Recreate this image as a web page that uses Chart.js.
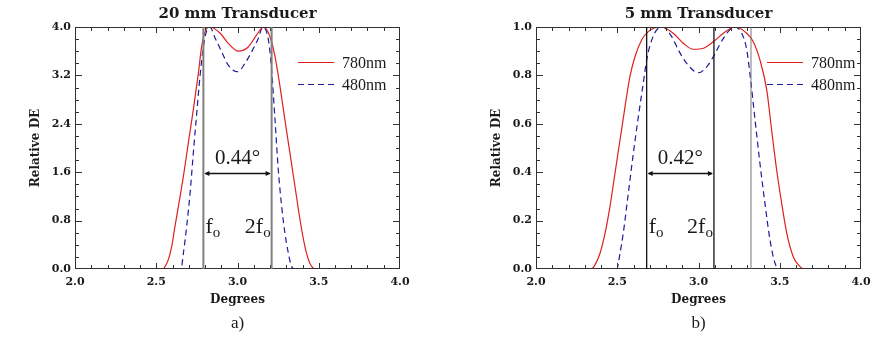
<!DOCTYPE html>
<html lang="en">
<head>
<meta charset="UTF-8" />
<title>Relative DE vs Degrees</title>
<script src="https://cdn.jsdelivr.net/npm/chart.js"></script>
<style>
  html, body { margin: 0; padding: 0; background: #fff; }
  body { width: 885px; height: 338px; overflow: hidden; display: flex; }
  canvas { display: block; }
</style>
</head>
<body>
<canvas id="chartA" width="442" height="338"></canvas>
<canvas id="chartB" width="443" height="338"></canvas>

<script>
// axis ticks
const xTicks = [2.0, 2.5, 3.0, 3.5, 4.0];
const yTicksA = [0.0, 0.8, 1.6, 2.4, 3.2, 4.0];
const yTicksB = [0.0, 0.2, 0.4, 0.6, 0.8, 1.0];
const seriesNames = ["780nm", "480nm"];

// a) 20 mm transducer
const degA780 = [2.0, 2.54, 2.554, 2.574, 2.595, 2.615, 2.636, 2.667, 2.697, 2.728, 2.759, 2.779, 2.80, 2.831, 2.892, 2.943, 3.005, 3.066, 3.118, 3.16, 3.20, 3.231, 3.262, 3.292, 3.323, 3.354, 3.385, 3.415, 3.446, 3.48, 4.0];
const valA780 = [0, 0, 0.04, 0.15, 0.37, 0.70, 1.03, 1.53, 2.08, 2.63, 3.23, 3.67, 3.92, 4.0, 3.90, 3.73, 3.60, 3.67, 3.87, 4.0, 3.84, 3.51, 3.01, 2.46, 1.91, 1.36, 0.81, 0.37, 0.09, 0, 0];
const degA480 = [2.0, 2.652, 2.667, 2.687, 2.708, 2.728, 2.749, 2.769, 2.79, 2.806, 2.83, 2.862, 2.903, 2.943, 3.0, 3.046, 3.087, 3.128, 3.155, 3.19, 3.21, 3.231, 3.251, 3.272, 3.292, 3.313, 3.333, 3.352, 4.0];
const valA480 = [0, 0, 0.26, 0.70, 1.25, 1.91, 2.57, 3.18, 3.67, 3.90, 4.0, 3.82, 3.59, 3.37, 3.26, 3.40, 3.59, 3.81, 4.0, 3.79, 3.29, 2.46, 1.64, 1.03, 0.59, 0.26, 0.04, 0, 0];
const markersA = [2.79, 3.21];
const greyMarkersA = [];
const arrowA = 1.58;

// b) 5 mm transducer
const degB780 = [2.0, 2.34, 2.363, 2.394, 2.425, 2.455, 2.486, 2.517, 2.548, 2.578, 2.609, 2.65, 2.691, 2.77, 2.845, 2.906, 2.968, 3.03, 3.091, 3.153, 3.225, 3.297, 3.337, 3.378, 3.42, 3.45, 3.481, 3.512, 3.543, 3.583, 3.625, 3.65, 4.0];
const valB780 = [0, 0, 0.017, 0.065, 0.148, 0.257, 0.395, 0.533, 0.671, 0.795, 0.877, 0.946, 0.981, 1.0, 0.974, 0.933, 0.908, 0.912, 0.939, 0.974, 1.0, 0.974, 0.939, 0.864, 0.74, 0.574, 0.409, 0.271, 0.148, 0.051, 0.01, 0, 0];
const degB480 = [2.0, 2.497, 2.517, 2.537, 2.568, 2.599, 2.63, 2.66, 2.681, 2.712, 2.743, 2.78, 2.835, 2.876, 2.927, 2.999, 3.06, 3.102, 3.153, 3.22, 3.266, 3.297, 3.321, 3.348, 3.378, 3.409, 3.44, 3.471, 3.5, 4.0];
const valB480 = [0, 0, 0.065, 0.148, 0.313, 0.478, 0.63, 0.767, 0.864, 0.946, 0.988, 1.0, 0.96, 0.905, 0.85, 0.811, 0.843, 0.891, 0.953, 1.0, 0.974, 0.905, 0.781, 0.616, 0.437, 0.271, 0.12, 0.024, 0, 0];
const markersB = [2.681, 3.095];
const greyMarkersB = [3.323];
const arrowB = 0.395;

const TXT = "#1a1a1a";
const tickFont = { family: "DejaVu Serif", size: 11, weight: "bold" };
const labelFont = { family: "DejaVu Serif", size: 12, weight: "bold" };

function pts(xs, ys) {
  return xs.map((x, i) => ({ x: x, y: ys[i] }));
}

// IDL-style box with inward ticks on all four sides
const idlBox = {
  id: "idlBox",
  afterDatasetsDraw(chart, args, o) {
    const { ctx, chartArea: a, scales: { x, y } } = chart;
    ctx.save();
    ctx.strokeStyle = "#333";
    ctx.lineWidth = 1;
    ctx.strokeRect(a.left + 0.5, a.top + 0.5, a.right - a.left - 1, a.bottom - a.top - 1);
    ctx.beginPath();
    const nx = Math.round((x.max - x.min) / o.xMinor);
    for (let i = 1; i < nx; i++) {
      const v = x.min + i * o.xMinor;
      const len = Math.abs(v / o.xMajor - Math.round(v / o.xMajor)) < 1e-6 ? 6 : 4;
      const px = Math.round(x.getPixelForValue(v)) + 0.5;
      ctx.moveTo(px, a.bottom); ctx.lineTo(px, a.bottom - len);
      ctx.moveTo(px, a.top); ctx.lineTo(px, a.top + len);
    }
    const ny = Math.round((y.max - y.min) / o.yMinor);
    for (let i = 1; i < ny; i++) {
      const v = y.min + i * o.yMinor;
      const len = Math.abs(v / o.yMajor - Math.round(v / o.yMajor)) < 1e-6 ? 7 : 4;
      const py = Math.round(y.getPixelForValue(v)) + 0.5;
      ctx.moveTo(a.left, py); ctx.lineTo(a.left + len, py);
      ctx.moveTo(a.right, py); ctx.lineTo(a.right - len, py);
    }
    ctx.stroke();

    // frequency markers
    const top = y.getPixelForValue(y.max), bot = y.getPixelForValue(y.min);
    ctx.strokeStyle = o.markerColor;
    ctx.lineWidth = o.markerWidth;
    o.markers.forEach(m => {
      const px = x.getPixelForValue(m);
      ctx.beginPath(); ctx.moveTo(px, top); ctx.lineTo(px, bot); ctx.stroke();
    });
    ctx.strokeStyle = "#777";
    ctx.lineWidth = 1;
    o.greyMarkers.forEach(m => {
      const px = x.getPixelForValue(m);
      ctx.beginPath(); ctx.moveTo(px, top); ctx.lineTo(px, bot); ctx.stroke();
    });

    // double arrow
    const x1 = x.getPixelForValue(o.markers[0]), x2 = x.getPixelForValue(o.markers[1]);
    const ay = Math.round(y.getPixelForValue(o.arrowAt)) + 0.5;
    ctx.strokeStyle = "#111"; ctx.fillStyle = "#111"; ctx.lineWidth = 1.5;
    ctx.beginPath(); ctx.moveTo(x1 + 2, ay); ctx.lineTo(x2 - 2, ay); ctx.stroke();
    ctx.beginPath();
    ctx.moveTo(x1 + 1, ay); ctx.lineTo(x1 + 6, ay - 2.5); ctx.lineTo(x1 + 6, ay + 2.5); ctx.closePath();
    ctx.moveTo(x2 - 1, ay); ctx.lineTo(x2 - 6, ay - 2.5); ctx.lineTo(x2 - 6, ay + 2.5); ctx.closePath();
    ctx.fill();

    ctx.fillStyle = TXT;
    ctx.textBaseline = "alphabetic";
    ctx.textAlign = "center";
    ctx.font = '21px "Liberation Serif"';
    ctx.fillText(o.width, (x1 + x2) / 2, ay - 10);

    // f0 and 2f0
    const by = y.getPixelForValue(o.fLabelAt);
    const big = '22px "Liberation Serif"', small = '15px "Liberation Serif"';
    ctx.textAlign = "left";
    ctx.font = big;
    const wf = ctx.measureText("f").width, w2f = ctx.measureText("2f").width;
    ctx.font = small;
    const wo = ctx.measureText("o").width;
    ctx.font = big; ctx.fillText("f", x1 + 2, by);
    ctx.font = small; ctx.fillText("o", x1 + 2 + wf, by + 4);
    const sx = x2 - 1 - w2f - wo;
    ctx.font = big; ctx.fillText("2f", sx, by);
    ctx.font = small; ctx.fillText("o", sx + w2f, by + 4);

    // legend
    ctx.textBaseline = "middle";
    ctx.font = '16px "Liberation Serif"';
    chart.data.datasets.forEach((ds, i) => {
      const ly = Math.round(a.top + o.legendTop + i * 22) + 0.5;
      const lx = a.right + o.legendRight;
      ctx.strokeStyle = ds.borderColor;
      ctx.lineWidth = ds.borderWidth;
      ctx.setLineDash(ds.borderDash || []);
      ctx.beginPath(); ctx.moveTo(lx, ly); ctx.lineTo(lx + 36, ly); ctx.stroke();
      ctx.setLineDash([]);
      ctx.fillStyle = TXT;
      ctx.fillText(ds.label, lx + 44, ly + 1);
    });
    ctx.restore();
  }
};

function makeChart(id, cfg) {
  return new Chart(document.getElementById(id), {
    type: "line",
    data: {
      datasets: [
        { label: seriesNames[0], data: pts(cfg.deg780, cfg.val780), borderColor: "#dd2020", borderWidth: 1.2, pointRadius: 0, cubicInterpolationMode: "monotone" },
        { label: seriesNames[1], data: pts(cfg.deg480, cfg.val480), borderColor: "#1c1c9c", borderWidth: 1.2, borderDash: [6, 4], pointRadius: 0, cubicInterpolationMode: "monotone" }
      ]
    },
    options: {
      responsive: false,
      animation: false,
      devicePixelRatio: 1,
      layout: { padding: { left: 0, right: cfg.padRight, top: 0, bottom: 0 } },
      plugins: {
        legend: { display: false },
        tooltip: { enabled: false },
        title: {
          display: true, text: cfg.title, fullSize: false, color: TXT,
          font: { family: "DejaVu Serif", size: 15, weight: "bold", lineHeight: 1.2 },
          padding: { top: 5, bottom: 4 }
        },
        subtitle: {
          display: true, text: cfg.caption, position: "bottom", fullSize: false, color: TXT,
          font: { family: "Liberation Serif", size: 17, lineHeight: 1.2 },
          padding: { top: 2, bottom: 4 }
        },
        idlBox: {
          xMajor: 0.5, xMinor: 0.1, yMajor: cfg.yMajor, yMinor: cfg.yMinor,
          markers: cfg.markers, greyMarkers: cfg.greyMarkers,
          markerColor: cfg.markerColor, markerWidth: cfg.markerWidth,
          arrowAt: cfg.arrowAt, width: cfg.width, fLabelAt: cfg.fLabelAt,
          legendTop: 35, legendRight: cfg.legendRight
        }
      },
      scales: {
        x: {
          type: "linear", min: 2, max: 4,
          afterBuildTicks: s => { s.ticks = xTicks.map(v => ({ value: v })); },
          afterFit: s => { s.height = 42.6; },
          ticks: { callback: v => v.toFixed(1), padding: 7, color: TXT, font: tickFont, maxRotation: 0, autoSkip: false },
          grid: { display: false, drawTicks: false }, border: { display: false },
          title: { display: true, text: "Degrees", color: TXT, font: labelFont, padding: { top: 0, bottom: 5 } }
        },
        y: {
          type: "linear", min: 0, max: cfg.yTicks[cfg.yTicks.length - 1],
          afterBuildTicks: s => { s.ticks = cfg.yTicks.map(v => ({ value: v })); },
          afterFit: s => { s.width = cfg.yWidth; },
          ticks: { callback: v => v.toFixed(1), padding: 4, color: TXT, font: tickFont, autoSkip: false },
          grid: { display: false, drawTicks: false }, border: { display: false },
          title: { display: true, text: "Relative DE", color: TXT, font: labelFont, padding: { top: cfg.yTitlePad, bottom: 0 } }
        }
      }
    },
    plugins: [idlBox]
  });
}

makeChart("chartA", {
  title: "20 mm Transducer", caption: "a)",
  deg780: degA780, val780: valA780, deg480: degA480, val480: valA480,
  yTicks: yTicksA, yMajor: 0.8, yMinor: 0.2,
  markers: markersA, greyMarkers: greyMarkersA, markerColor: "#808080", markerWidth: 2,
  arrowAt: arrowA, width: "0.44°", fLabelAt: 0.6,
  yWidth: 75, padRight: 42, yTitlePad: 29, legendRight: -102
});

makeChart("chartB", {
  title: "5 mm Transducer", caption: "b)",
  deg780: degB780, val780: valB780, deg480: degB480, val480: valB480,
  yTicks: yTicksB, yMajor: 0.2, yMinor: 0.05,
  markers: markersB, greyMarkers: greyMarkersB, markerColor: "#111", markerWidth: 1.3,
  arrowAt: arrowB, width: "0.42°", fLabelAt: 0.149,
  yWidth: 94, padRight: 24, yTitlePad: 48, legendRight: -94
});
</script>
</body>
</html>
